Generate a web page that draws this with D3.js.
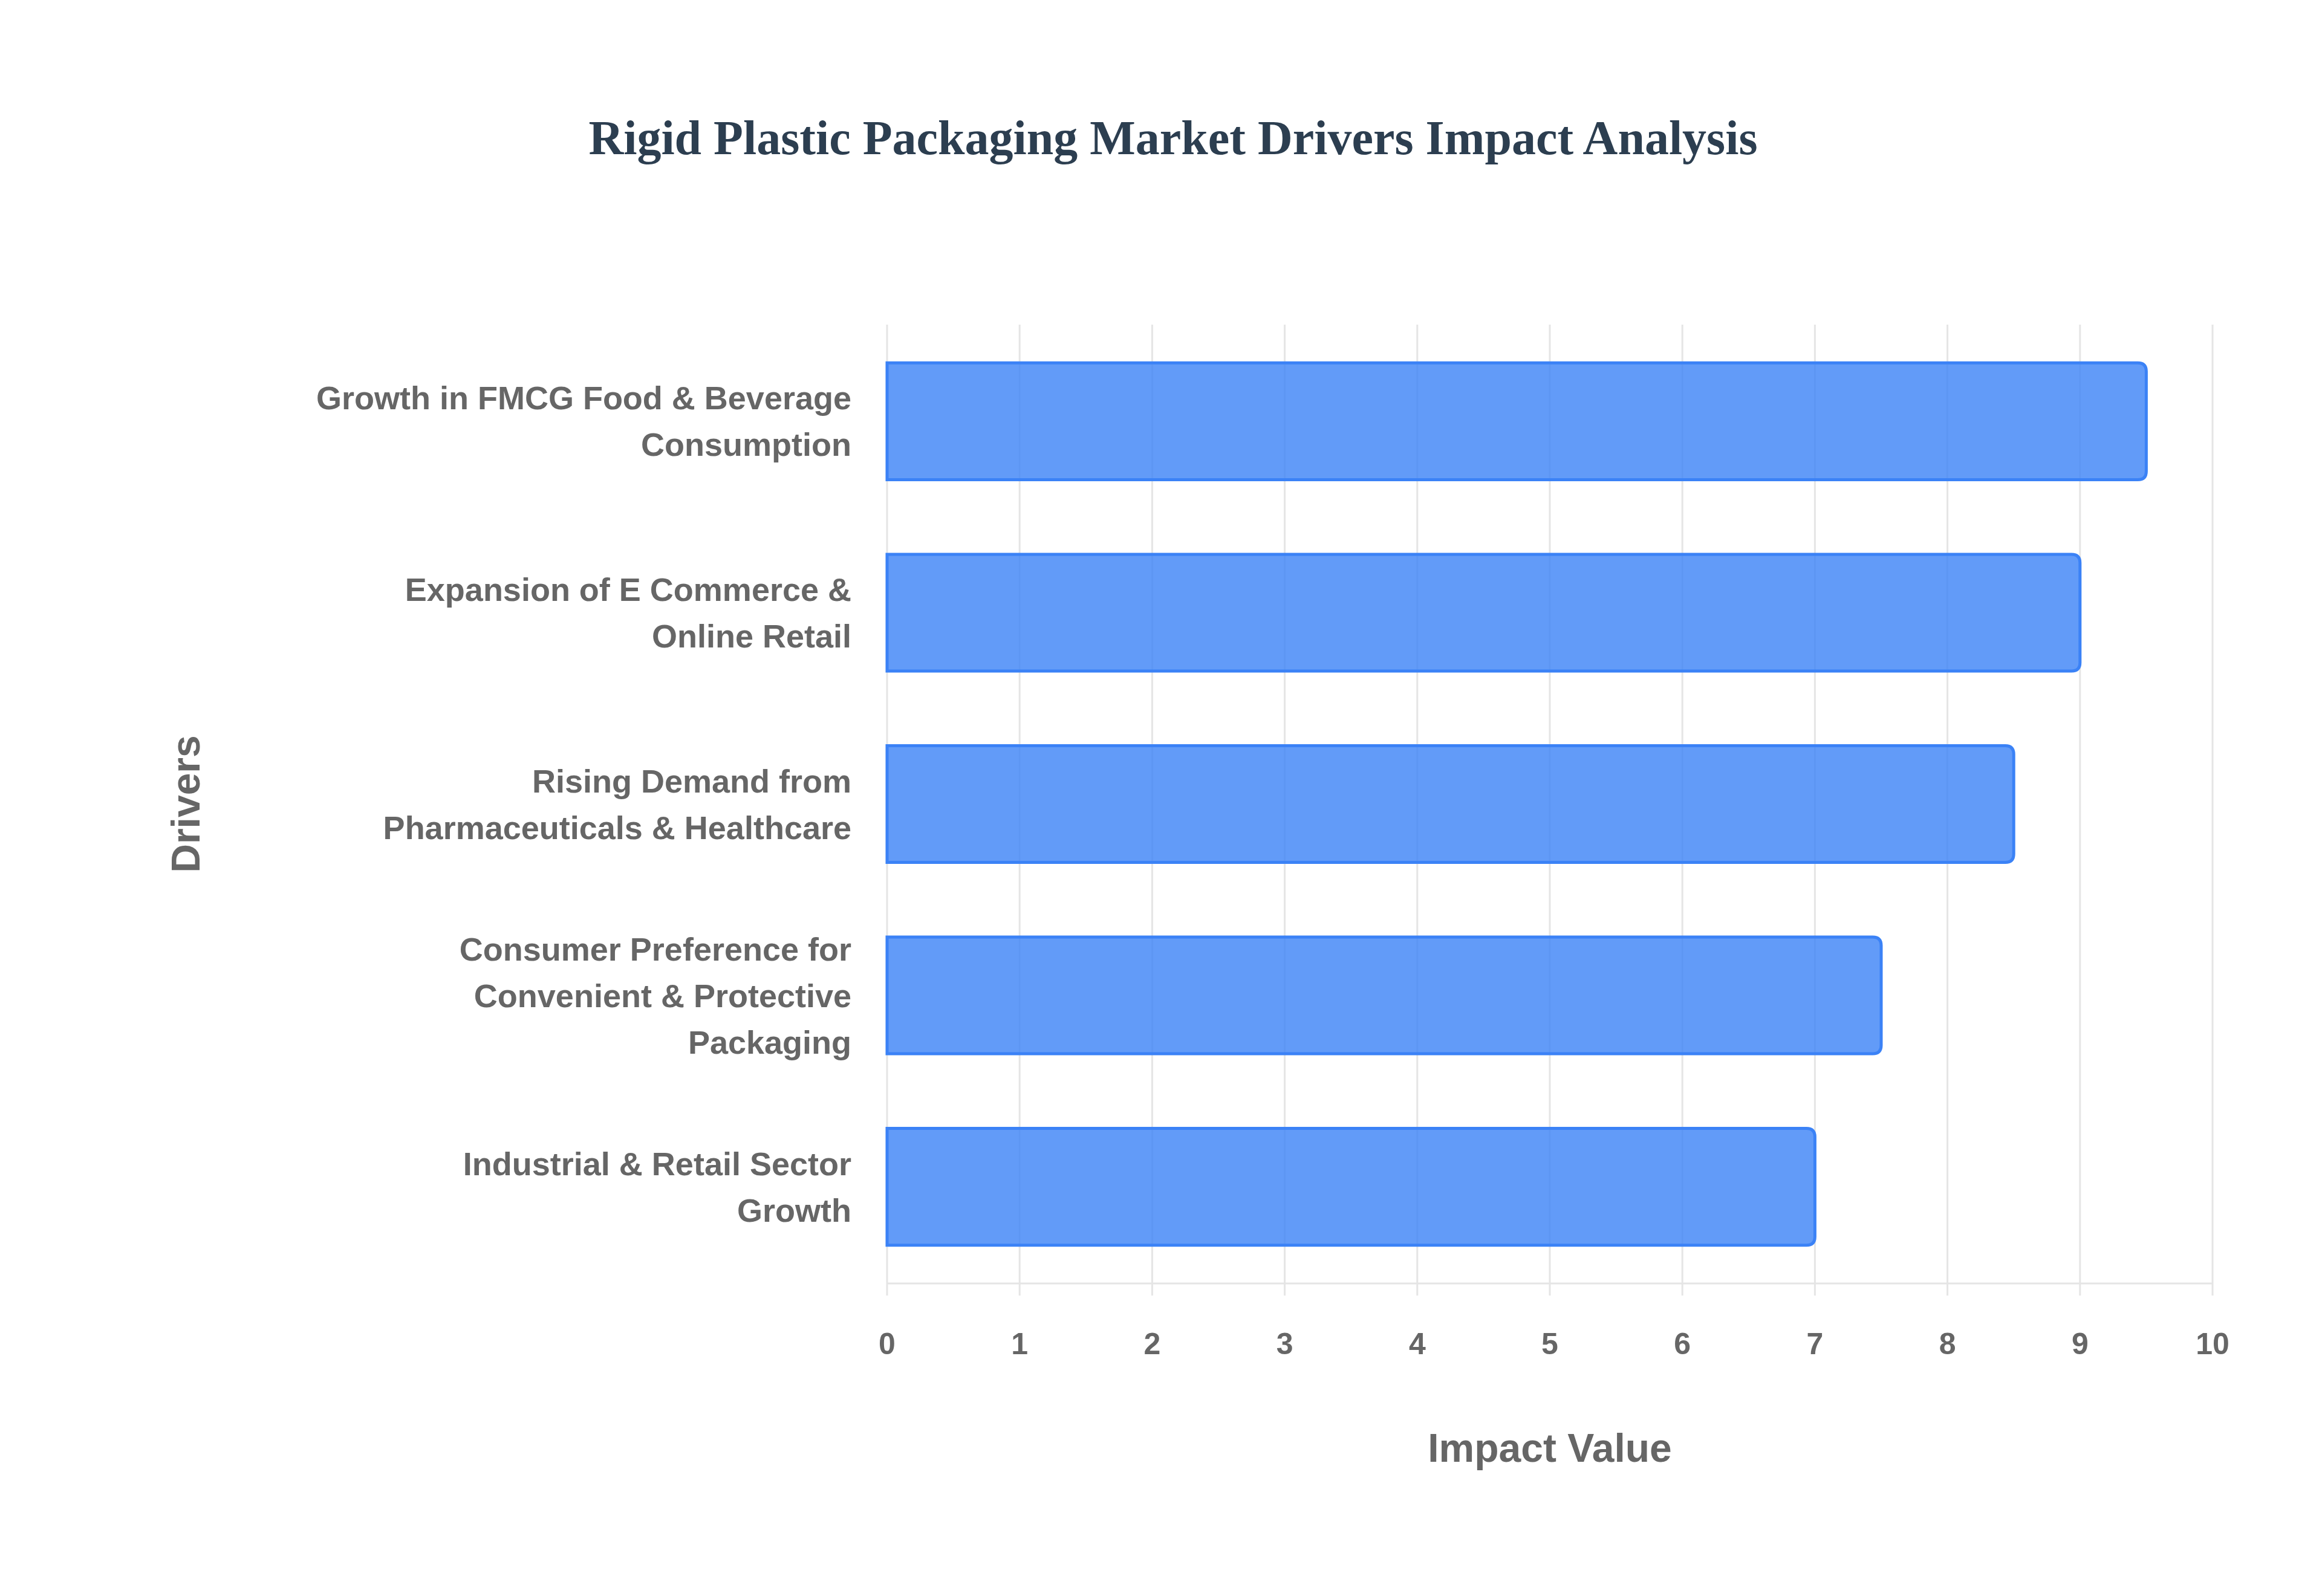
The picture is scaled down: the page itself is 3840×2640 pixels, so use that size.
<!DOCTYPE html>
<html>
<head>
<script src="https://cdn.jsdelivr.net/npm/d3@7"></script>
<style>
  body { margin: 0; background: #fff; }
  svg { display: block; }
</style>
</head>
<body>
<svg width="3840" height="2640"></svg>
<script>
const drivers = [
  ["Growth in FMCG Food & Beverage", "Consumption"],
  ["Expansion of E Commerce &", "Online Retail"],
  ["Rising Demand from", "Pharmaceuticals & Healthcare"],
  ["Consumer Preference for", "Convenient & Protective", "Packaging"],
  ["Industrial & Retail Sector", "Growth"]
];
const values = [9.5, 9, 8.5, 7.5, 7];
const ticks = [0, 1, 2, 3, 4, 5, 6, 7, 8, 9, 10];

const svg = d3.select("svg");
const plotL = 1467, plotR = 3659, plotT = 537, plotB = 2123;

const x = d3.scaleLinear().domain([0, 10]).range([plotL, plotR]);
const y = d3.scaleBand().domain(d3.range(values.length)).range([plotT, plotB]).paddingInner(0.39).paddingOuter(0.2);

// grid
svg.append("g").selectAll("line").data(ticks).enter().append("line")
  .attr("x1", d => x(d)).attr("x2", d => x(d))
  .attr("y1", plotT).attr("y2", plotB + 20)
  .attr("stroke", "#e5e5e5").attr("stroke-width", 3);
svg.append("line").attr("x1", plotL).attr("x2", plotR).attr("y1", plotB).attr("y2", plotB)
  .attr("stroke", "#e5e5e5").attr("stroke-width", 3);

// bars with rounded right end
const r = 14;
svg.append("g").selectAll("path").data(values).enter().append("path")
  .attr("d", (d, i) => {
    const x0 = x(0), x1 = x(d), y0 = y(i), h = y.bandwidth();
    return `M${x0},${y0}H${x1 - r}Q${x1},${y0} ${x1},${y0 + r}V${y0 + h - r}Q${x1},${y0 + h} ${x1 - r},${y0 + h}H${x0}Z`;
  })
  .attr("fill", "rgba(59,130,246,0.8)")
  .attr("stroke", "#3b82f6").attr("stroke-width", 5);

// tick labels
svg.append("g").selectAll("text").data(ticks).enter().append("text")
  .attr("x", d => x(d)).attr("y", 2240)
  .attr("text-anchor", "middle")
  .attr("font-family", "Liberation Sans, Arial, sans-serif").attr("font-weight", "bold")
  .attr("font-size", 50).attr("fill", "#666")
  .text(d => d);

// category labels
const lh = 77;
const cat = svg.append("g").selectAll("text").data(drivers).enter().append("text")
  .attr("text-anchor", "end")
  .attr("font-family", "Liberation Sans, Arial, sans-serif").attr("font-weight", "bold")
  .attr("font-size", 54).attr("fill", "#666")
  .attr("transform", (d, i) => `translate(1408,${y(i) + y.bandwidth() / 2 - (d.length - 1) * lh / 2 + 19})`);
cat.selectAll("tspan").data(d => d).enter().append("tspan")
  .attr("x", 0).attr("y", (d, j) => j * lh).text(d => d);

// axis titles
svg.append("text").attr("x", 2563).attr("y", 2418).attr("text-anchor", "middle")
  .attr("font-family", "Liberation Sans, Arial, sans-serif").attr("font-weight", "bold")
  .attr("font-size", 66).attr("fill", "#666").text("Impact Value");
svg.append("text").attr("transform", "translate(330,1330) rotate(-90)").attr("text-anchor", "middle")
  .attr("font-family", "Liberation Sans, Arial, sans-serif").attr("font-weight", "bold")
  .attr("font-size", 66).attr("fill", "#666").text("Drivers");

// title
svg.append("text").attr("x", 1940).attr("y", 255).attr("text-anchor", "middle")
  .attr("font-family", "Liberation Serif, Times New Roman, serif").attr("font-weight", "bold")
  .attr("font-size", 80).attr("fill", "#2c3e50")
  .text("Rigid Plastic Packaging Market Drivers Impact Analysis");
</script>
</body>
</html>
